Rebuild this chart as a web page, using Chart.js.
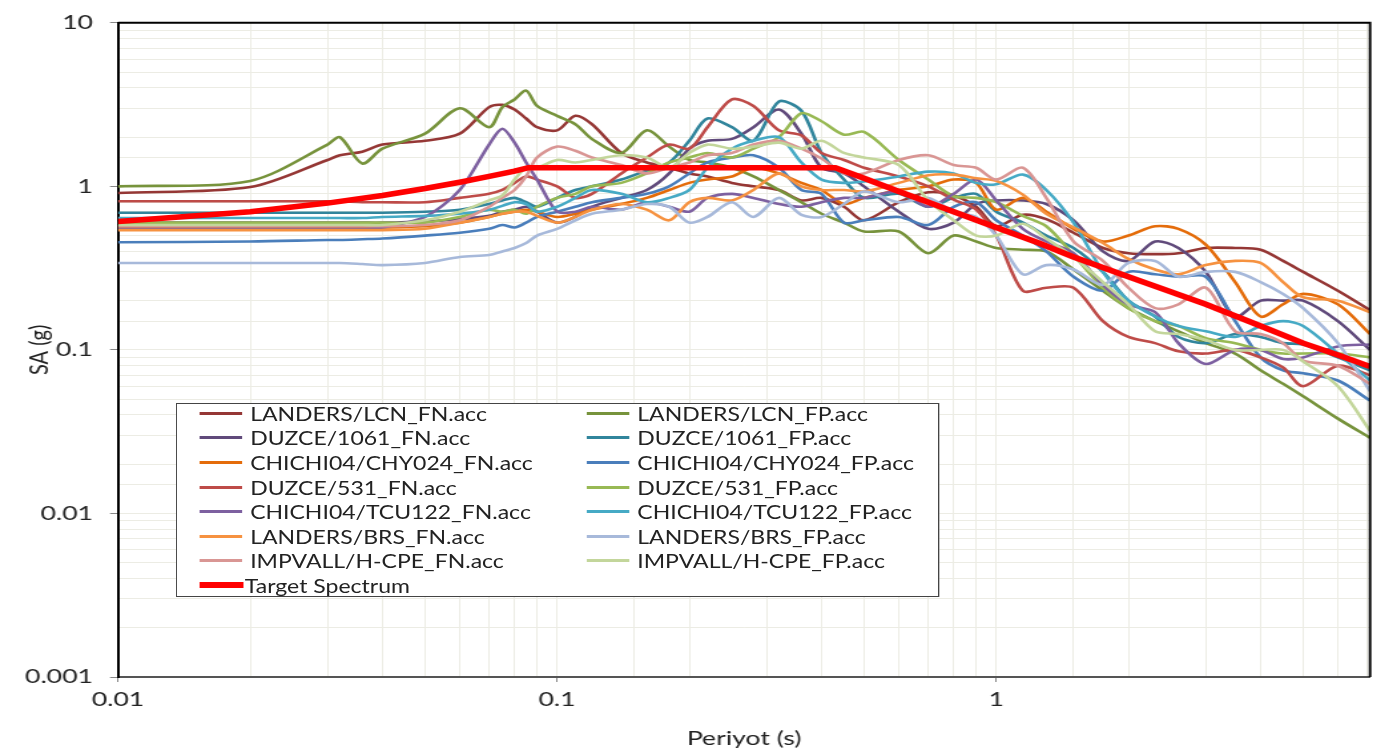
<!DOCTYPE html>
<html>
<head>
<meta charset="utf-8">
<script src="https://cdn.jsdelivr.net/npm/chart.js@4.4.1/dist/chart.umd.min.js"></script>
<style>
    html, body { margin: 0; padding: 0; background: #fff; overflow: hidden; }
    #contenedor { position: relative; width: 1393px; height: 749px; overflow: hidden; }
    /* La figura original esta estirada en horizontal: se dibuja mas estrecha y se escala */
    #lienzo {
        position: absolute; left: 0; top: 0; width: 1047px; height: 749px;
        transform: scaleX(1.3305); transform-origin: 0 0;
    }
    #leyenda {
        position: absolute; left: 132.3px; top: 403px; width: 574px; height: 194px;
        box-sizing: border-box; border: 1.5px solid #444; background: #fff;
        font-family: Lato, sans-serif; font-size: 19px; color: #222;
    }
    #leyenda .filas {
        position: absolute; left: 17px; top: -3px;
        display: grid; grid-template-columns: 291px 260px; grid-auto-rows: 24.6px;
    }
    #leyenda .item { display: flex; align-items: center; white-space: nowrap; }
    #leyenda .linea { width: 31.6px; height: 3px; margin-right: 6px; flex: none; }
    #leyenda .gruesa { width: 32.3px; height: 6px; margin-right: 1px; }
    #leyenda .texto { display: inline-block; transform: scaleX(0.91); transform-origin: 0 50%; }
</style>
</head>
<body>
<div id="contenedor">
    <div id="lienzo">
        <canvas id="grafica-espectro"></canvas>
        <div id="leyenda"><div class="filas"></div></div>
    </div>
</div>
<script>
// Periodos (s) en los que se han leido los registros
const periodos = [0.01, 0.02, 0.03, 0.032, 0.036, 0.04, 0.05, 0.06, 0.07, 0.075,
    0.08, 0.085, 0.09, 0.1, 0.11, 0.12, 0.14, 0.16, 0.18, 0.2,
    0.22, 0.25, 0.28, 0.32, 0.36, 0.4, 0.45, 0.5, 0.6, 0.7,
    0.8, 0.9, 1.0, 1.15, 1.3, 1.5, 1.75, 2.0, 2.3, 2.6,
    3.0, 3.5, 4.0, 4.5, 5.0, 6.0, 7.1];

const landersLcnFn = [0.91, 0.99, 1.45, 1.55, 1.63, 1.8, 1.9, 2.1, 3.05, 3.15,
    2.95, 2.6, 2.3, 2.2, 2.7, 2.4, 1.6, 1.4, 1.3, 1.2,
    1.15, 1.05, 1.0, 0.95, 0.82, 0.85, 0.75, 0.62, 0.8, 0.92,
    0.88, 0.75, 0.57, 0.67, 0.63, 0.52, 0.42, 0.39, 0.385, 0.39,
    0.42, 0.42, 0.41, 0.35, 0.3, 0.23, 0.175];
const landersLcnFp = [1.0, 1.08, 1.8, 2.0, 1.38, 1.7, 2.1, 3.0, 2.3, 3.05,
    3.4, 3.85, 3.1, 2.7, 2.4, 1.95, 1.6, 2.2, 1.75, 1.45,
    1.4, 1.3, 1.15, 0.95, 0.8, 0.68, 0.6, 0.53, 0.53, 0.39,
    0.5, 0.46, 0.42, 0.41, 0.4, 0.31, 0.23, 0.18, 0.15, 0.13,
    0.11, 0.095, 0.075, 0.062, 0.052, 0.038, 0.029];
const duzce1061Fn = [0.6, 0.6, 0.6, 0.6, 0.6, 0.6, 0.61, 0.63, 0.66, 0.7,
    0.72, 0.75, 0.7, 0.6, 0.65, 0.75, 0.85, 0.95, 1.2, 1.7,
    1.9, 1.95, 2.3, 2.95, 2.1, 1.3, 1.2, 1.0, 0.7, 0.55,
    0.6, 0.78, 0.82, 0.82, 0.78, 0.62, 0.4, 0.35, 0.46, 0.42,
    0.3, 0.16, 0.2, 0.2, 0.2, 0.15, 0.1];
const duzce1061Fp = [0.69, 0.69, 0.69, 0.69, 0.69, 0.69, 0.7, 0.72, 0.78, 0.82,
    0.85, 0.8, 0.75, 0.85, 0.95, 1.0, 1.1, 1.25, 1.4, 1.9,
    2.6, 2.3, 1.9, 3.3, 2.9, 1.6, 1.1, 0.85, 0.9, 0.75,
    0.85, 0.9, 0.7, 0.6, 0.5, 0.42, 0.3, 0.2, 0.16, 0.12,
    0.11, 0.125, 0.12, 0.11, 0.108, 0.09, 0.075];
const chichiChy024Fn = [0.56, 0.56, 0.56, 0.56, 0.56, 0.56, 0.57, 0.6, 0.65, 0.68,
    0.7, 0.72, 0.7, 0.65, 0.68, 0.72, 0.78, 0.85, 0.95, 1.05,
    1.1, 1.15, 1.3, 1.2, 1.05, 0.95, 0.78, 0.85, 0.95, 1.0,
    1.1, 1.05, 0.72, 0.85, 0.7, 0.55, 0.46, 0.5, 0.57, 0.55,
    0.44, 0.26, 0.16, 0.19, 0.22, 0.19, 0.125];
const chichiChy024Fp = [0.455, 0.46, 0.47, 0.47, 0.475, 0.48, 0.5, 0.52, 0.55, 0.58,
    0.56, 0.6, 0.65, 0.7, 0.75, 0.8, 0.85, 0.9, 1.0, 1.2,
    1.4, 1.5, 1.55, 1.3, 0.95, 0.9, 0.6, 0.62, 0.65, 0.58,
    0.75, 0.8, 0.62, 0.5, 0.4, 0.28, 0.23, 0.3, 0.29, 0.28,
    0.28, 0.15, 0.09, 0.075, 0.072, 0.065, 0.049];
const duzce531Fn = [0.81, 0.81, 0.81, 0.81, 0.8, 0.8, 0.8, 0.85, 0.9, 0.95,
    1.05, 1.15, 1.1, 1.0, 0.85, 0.9, 1.2, 1.5, 1.8, 1.7,
    2.3, 3.4, 3.1, 2.2, 2.05, 1.6, 1.45, 1.3, 1.15, 1.0,
    0.83, 0.72, 0.5, 0.23, 0.24, 0.24, 0.15, 0.12, 0.11, 0.098,
    0.095, 0.1, 0.09, 0.078, 0.06, 0.08, 0.07];
const duzce531Fp = [0.6, 0.6, 0.6, 0.6, 0.6, 0.6, 0.6, 0.65, 0.72, 0.7,
    0.72, 0.68, 0.75, 0.85, 0.9, 1.0, 1.05, 1.2, 1.4, 1.5,
    1.6, 1.5, 1.7, 2.0, 2.8, 2.5, 2.07, 2.15, 1.45, 1.1,
    0.87, 0.85, 0.8, 0.66, 0.57, 0.38, 0.24, 0.18, 0.15, 0.14,
    0.118, 0.11, 0.1, 0.095, 0.095, 0.095, 0.09];
const chichiTcu122Fn = [0.55, 0.55, 0.55, 0.55, 0.55, 0.56, 0.65, 0.95, 1.8, 2.25,
    1.85, 1.4, 1.1, 0.7, 0.7, 0.75, 0.72, 0.8, 0.75, 0.7,
    0.85, 0.9, 0.85, 0.78, 0.75, 0.8, 0.85, 0.85, 0.93, 0.75,
    0.9, 1.1, 0.82, 0.55, 0.46, 0.39, 0.25, 0.19, 0.17, 0.11,
    0.082, 0.1, 0.1, 0.088, 0.09, 0.105, 0.108];
const chichiTcu122Fp = [0.64, 0.64, 0.64, 0.64, 0.64, 0.65, 0.66, 0.68, 0.72, 0.76,
    0.8, 0.78, 0.7, 0.75, 0.85, 0.95, 0.9, 0.8, 0.85, 0.95,
    1.3, 1.7, 1.9, 2.0, 1.4, 1.1, 1.05, 1.07, 1.15, 1.23,
    1.2, 1.05, 1.03, 1.18, 0.95, 0.6, 0.3, 0.2, 0.16, 0.14,
    0.13, 0.12, 0.14, 0.15, 0.14, 0.095, 0.065];
const landersBrsFn = [0.54, 0.54, 0.54, 0.54, 0.54, 0.54, 0.55, 0.6, 0.65, 0.68,
    0.7, 0.7, 0.66, 0.6, 0.65, 0.72, 0.78, 0.72, 0.62, 0.8,
    0.85, 0.82, 0.95, 1.2, 1.0, 0.95, 0.95, 0.93, 1.05, 1.17,
    1.18, 1.12, 1.08, 0.89, 0.68, 0.56, 0.45, 0.36, 0.31, 0.29,
    0.33, 0.35, 0.34, 0.26, 0.21, 0.2, 0.17];
const landersBrsFp = [0.34, 0.34, 0.34, 0.34, 0.335, 0.33, 0.34, 0.37, 0.38, 0.4,
    0.42, 0.45, 0.5, 0.55, 0.62, 0.68, 0.72, 0.78, 0.75, 0.6,
    0.65, 0.8, 0.65, 0.85, 0.67, 0.65, 0.78, 0.93, 0.8, 0.85,
    0.7, 0.65, 0.5, 0.29, 0.33, 0.31, 0.25, 0.34, 0.35, 0.28,
    0.3, 0.3, 0.26, 0.22, 0.18, 0.11, 0.056];
const impvallHcpeFn = [0.57, 0.57, 0.57, 0.57, 0.57, 0.57, 0.58, 0.62, 0.75, 0.85,
    0.95, 1.15, 1.5, 1.75, 1.65, 1.5, 1.35, 1.2, 1.3, 1.4,
    1.55, 1.6, 1.8, 1.9, 1.7, 1.48, 1.2, 1.2, 1.45, 1.55,
    1.35, 1.3, 1.1, 1.3, 0.85, 0.46, 0.35, 0.24, 0.18, 0.19,
    0.24, 0.13, 0.125, 0.11, 0.086, 0.08, 0.062];
const impvallHcpeFp = [0.58, 0.58, 0.58, 0.58, 0.58, 0.58, 0.62, 0.7, 0.82, 0.88,
    1.1, 1.3, 1.3, 1.45, 1.4, 1.45, 1.55, 1.5, 1.3, 1.6,
    1.8, 1.7, 1.75, 1.85, 1.7, 1.9, 1.6, 1.5, 1.35, 0.82,
    0.62, 0.5, 0.5, 0.59, 0.48, 0.37, 0.26, 0.19, 0.13, 0.125,
    0.115, 0.1, 0.1, 0.1, 0.085, 0.06, 0.032];

// Espectro objetivo
const periodosObjetivo = [0.01, 0.02, 0.03, 0.04, 0.05, 0.06, 0.07, 0.08, 0.086, 0.2, 0.43,
    0.5, 0.6, 0.7, 0.8, 1.0, 1.25, 1.5, 2.0, 3.0, 4.0, 5.0, 6.0, 7.1];
const espectroObjetivo = [0.61, 0.7, 0.79, 0.88, 0.97, 1.06, 1.15, 1.24, 1.3, 1.3, 1.3,
    1.12, 0.93, 0.8, 0.7, 0.56, 0.45, 0.37, 0.28, 0.19, 0.14, 0.11, 0.093, 0.079];

// Etiquetas de los ejes
const etiquetasX = ['0.01', '0.1', '1'];
const etiquetasY = ['0.001', '0.01', '0.1', '1', '10'];

const registros = [
    { nombre: 'LANDERS/LCN_FN.acc', valores: landersLcnFn, color: '#953735' },
    { nombre: 'LANDERS/LCN_FP.acc', valores: landersLcnFp, color: '#77933C' },
    { nombre: 'DUZCE/1061_FN.acc', valores: duzce1061Fn, color: '#604A7B' },
    { nombre: 'DUZCE/1061_FP.acc', valores: duzce1061Fp, color: '#31859C' },
    { nombre: 'CHICHI04/CHY024_FN.acc', valores: chichiChy024Fn, color: '#E46C0A' },
    { nombre: 'CHICHI04/CHY024_FP.acc', valores: chichiChy024Fp, color: '#4A7EBB' },
    { nombre: 'DUZCE/531_FN.acc', valores: duzce531Fn, color: '#BE4B48' },
    { nombre: 'DUZCE/531_FP.acc', valores: duzce531Fp, color: '#98B954' },
    { nombre: 'CHICHI04/TCU122_FN.acc', valores: chichiTcu122Fn, color: '#7D60A0' },
    { nombre: 'CHICHI04/TCU122_FP.acc', valores: chichiTcu122Fp, color: '#46AAC5' },
    { nombre: 'LANDERS/BRS_FN.acc', valores: landersBrsFn, color: '#F69240' },
    { nombre: 'LANDERS/BRS_FP.acc', valores: landersBrsFp, color: '#A7B9DA' },
    { nombre: 'IMPVALL/H-CPE_FN.acc', valores: impvallHcpeFn, color: '#D99694' },
    { nombre: 'IMPVALL/H-CPE_FP.acc', valores: impvallHcpeFp, color: '#C3D69B' },
];

function esDecada(valor) {
    const l = Math.log10(valor);
    return Math.abs(l - Math.round(l)) < 1e-6;
}

function etiquetaDe(valor, lista) {
    const encontrada = lista.find(function (e) {
        return Math.abs(Number(e) - valor) < valor * 1e-6;
    });
    return encontrada || '';
}

const datasets = registros.map(function (r, i) {
    return {
        label: r.nombre,
        data: periodos.map(function (t, j) {
            return { x: t, y: r.valores[j] };
        }),
        borderColor: r.color,
        backgroundColor: r.color,
        borderWidth: 2.6,
        pointRadius: 0,
        tension: 0.3,
        fill: false,
        order: registros.length - i,
    };
});

datasets.push({
    label: 'Target Spectrum',
    data: periodosObjetivo.map(function (t, j) {
        return { x: t, y: espectroObjetivo[j] };
    }),
    borderColor: '#FF0000',
    backgroundColor: '#FF0000',
    borderWidth: 5.5,
    pointRadius: 0,
    tension: 0,
    fill: false,
    order: 0,
});

// Marco superior y derecho del area de trazado
const marco = {
    id: 'marco',
    afterDatasetsDraw(chart) {
        const { ctx, chartArea: a } = chart;
        ctx.save();
        ctx.strokeStyle = '#000';
        ctx.lineWidth = 2;
        ctx.beginPath();
        ctx.moveTo(a.left, a.top);
        ctx.lineTo(a.right, a.top);
        ctx.lineTo(a.right, a.bottom);
        ctx.stroke();
        ctx.restore();
    },
};

const colorRejilla = '#ececE4';
const fuenteEjes = { family: 'Lato', size: 20 };

Chart.defaults.font.family = 'Lato';
Chart.defaults.color = '#222';

const canvas = document.getElementById('grafica-espectro');
const chart = new Chart(canvas, {
    type: 'line',
    data: { datasets: datasets },
    plugins: [marco],
    options: {
        responsive: true,
        maintainAspectRatio: false,
        animation: false,
        layout: { padding: { top: 21, right: 17.3, bottom: 0, left: 0 } },
        plugins: {
            legend: { display: false },
            tooltip: { enabled: false },
        },
        scales: {
            x: {
                type: 'logarithmic',
                min: 0.01,
                max: 7.1,
                afterFit: function (s) { s.height = 72; },
                border: { color: '#555', width: 2 },
                grid: {
                    color: colorRejilla,
                    lineWidth: 1,
                    tickLength: 5,
                    tickColor: function (context) {
                        return context.tick && esDecada(context.tick.value) ? '#888' : 'rgba(0,0,0,0)';
                    },
                },
                ticks: {
                    autoSkip: false,
                    maxRotation: 0,
                    padding: 6,
                    font: fuenteEjes,
                    color: '#222',
                    callback: function (valor) {
                        return esDecada(valor) ? etiquetaDe(valor, etiquetasX) : '';
                    },
                },
                title: {
                    display: true,
                    text: 'Periyot (s)',
                    font: fuenteEjes,
                    color: '#222',
                    padding: { top: 0, bottom: -2 },
                },
            },
            y: {
                type: 'logarithmic',
                min: 0.001,
                max: 10,
                afterFit: function (s) { s.width = 88.7; },
                border: { color: '#000', width: 2 },
                grid: {
                    color: colorRejilla,
                    lineWidth: 1,
                    tickLength: 6,
                    tickColor: function (context) {
                        return context.tick && esDecada(context.tick.value) ? '#888' : 'rgba(0,0,0,0)';
                    },
                },
                ticks: {
                    autoSkip: false,
                    padding: 12.8,
                    font: { family: 'Lato', size: 20, lineHeight: 1.0 },
                    color: '#222',
                    callback: function (valor) {
                        return esDecada(valor) ? etiquetaDe(valor, etiquetasY) : '';
                    },
                },
                title: {
                    display: true,
                    text: 'SA (g)',
                    font: fuenteEjes,
                    color: '#222',
                    padding: { top: 17.5, bottom: 0 },
                },
            },
        },
    },
});

// Leyenda en HTML a partir de los datasets de la grafica
const filas = document.querySelector('#leyenda .filas');
chart.data.datasets.forEach(function (ds) {
    const item = document.createElement('div');
    item.className = 'item';
    const linea = document.createElement('span');
    linea.className = ds.label === 'Target Spectrum' ? 'linea gruesa' : 'linea';
    linea.style.background = ds.borderColor;
    const texto = document.createElement('span');
    texto.className = 'texto';
    texto.textContent = ds.label;
    item.appendChild(linea);
    item.appendChild(texto);
    filas.appendChild(item);
});
</script>
</body>
</html>
